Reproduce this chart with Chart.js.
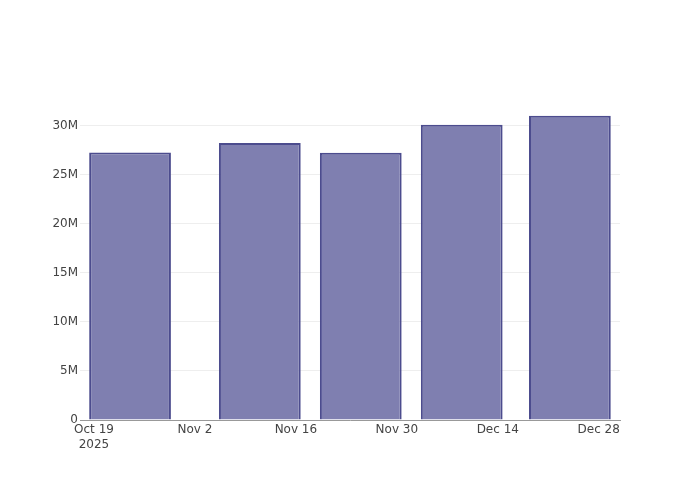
<!DOCTYPE html>
<html>
<head>
<meta charset="utf-8">
<script src="https://cdn.jsdelivr.net/npm/chart.js@4/dist/chart.umd.min.js"></script>
<style>
  html, body { margin: 0; padding: 0; background: #fff; }
  canvas { display: block; }
</style>
</head>
<body>
<canvas id="barChart" width="700" height="500"></canvas>
<script>
// data
var barDates = ['2025-10-24', '2025-11-11', '2025-11-25', '2025-12-09', '2025-12-24'];
var barValues = [27260000, 28210000, 27220000, 30070000, 30990000];

var xTickDates = ['2025-10-19', '2025-11-02', '2025-11-16', '2025-11-30', '2025-12-14', '2025-12-28'];
var xTickLabels = [['Oct 19', '2025'], 'Nov 2', 'Nov 16', 'Nov 30', 'Dec 14', 'Dec 28'];
var yTickValues = [0, 5000000, 10000000, 15000000, 20000000, 25000000, 30000000];
var yTickLabels = ['0', '5M', '10M', '15M', '20M', '25M', '30M'];

// x axis works in days from the first tick date
var base = Date.parse(xTickDates[0] + 'T00:00:00Z');
function toDays(d) {
  return (Date.parse(d + 'T00:00:00Z') - base) / 86400000;
}

var points = barDates.map(function(d, i) {
  return { x: toDays(d), y: barValues[i] };
});
var xTicks = xTickDates.map(toDays);

Chart.defaults.font.family = '"DejaVu Sans", Verdana, sans-serif';
Chart.defaults.font.size = 12;
Chart.defaults.color = '#444';

var chart = new Chart(document.getElementById('barChart'), {
  type: 'bar',
  data: {
    datasets: [{
      data: points,
      backgroundColor: 'rgb(127, 127, 176)',
      borderColor: 'rgb(76, 76, 142)',
      borderWidth: 2,
      barPercentage: 0.81,
      categoryPercentage: 1
    }]
  },
  options: {
    responsive: false,
    animation: false,
    layout: { padding: { top: 100, right: 80, left: 0, bottom: 0 } },
    plugins: {
      legend: { display: false },
      tooltip: { enabled: false }
    },
    scales: {
      x: {
        type: 'linear',
        offset: false,
        min: -1.94,
        max: 72.95,
        afterFit: function(scale) { scale.height = 80; },
        afterBuildTicks: function(scale) {
          scale.ticks = xTicks.map(function(v) { return { value: v }; });
        },
        ticks: {
          autoSkip: false,
          maxRotation: 0,
          padding: 3,
          callback: function(value) {
            var i = xTicks.indexOf(value);
            return i >= 0 ? xTickLabels[i] : '';
          }
        },
        grid: { display: false, drawTicks: false },
        border: { display: true, color: '#999', width: 1 }
      },
      y: {
        min: 0,
        max: 32600000,
        afterFit: function(scale) { scale.width = 80; },
        afterBuildTicks: function(scale) {
          scale.ticks = yTickValues.map(function(v) { return { value: v }; });
        },
        ticks: {
          padding: 2,
          callback: function(value) {
            var i = yTickValues.indexOf(value);
            return i >= 0 ? yTickLabels[i] : '';
          }
        },
        grid: { color: '#eeeeee', drawTicks: false, lineWidth: 1 },
        border: { display: false }
      }
    }
  }
});
</script>
</body>
</html>
